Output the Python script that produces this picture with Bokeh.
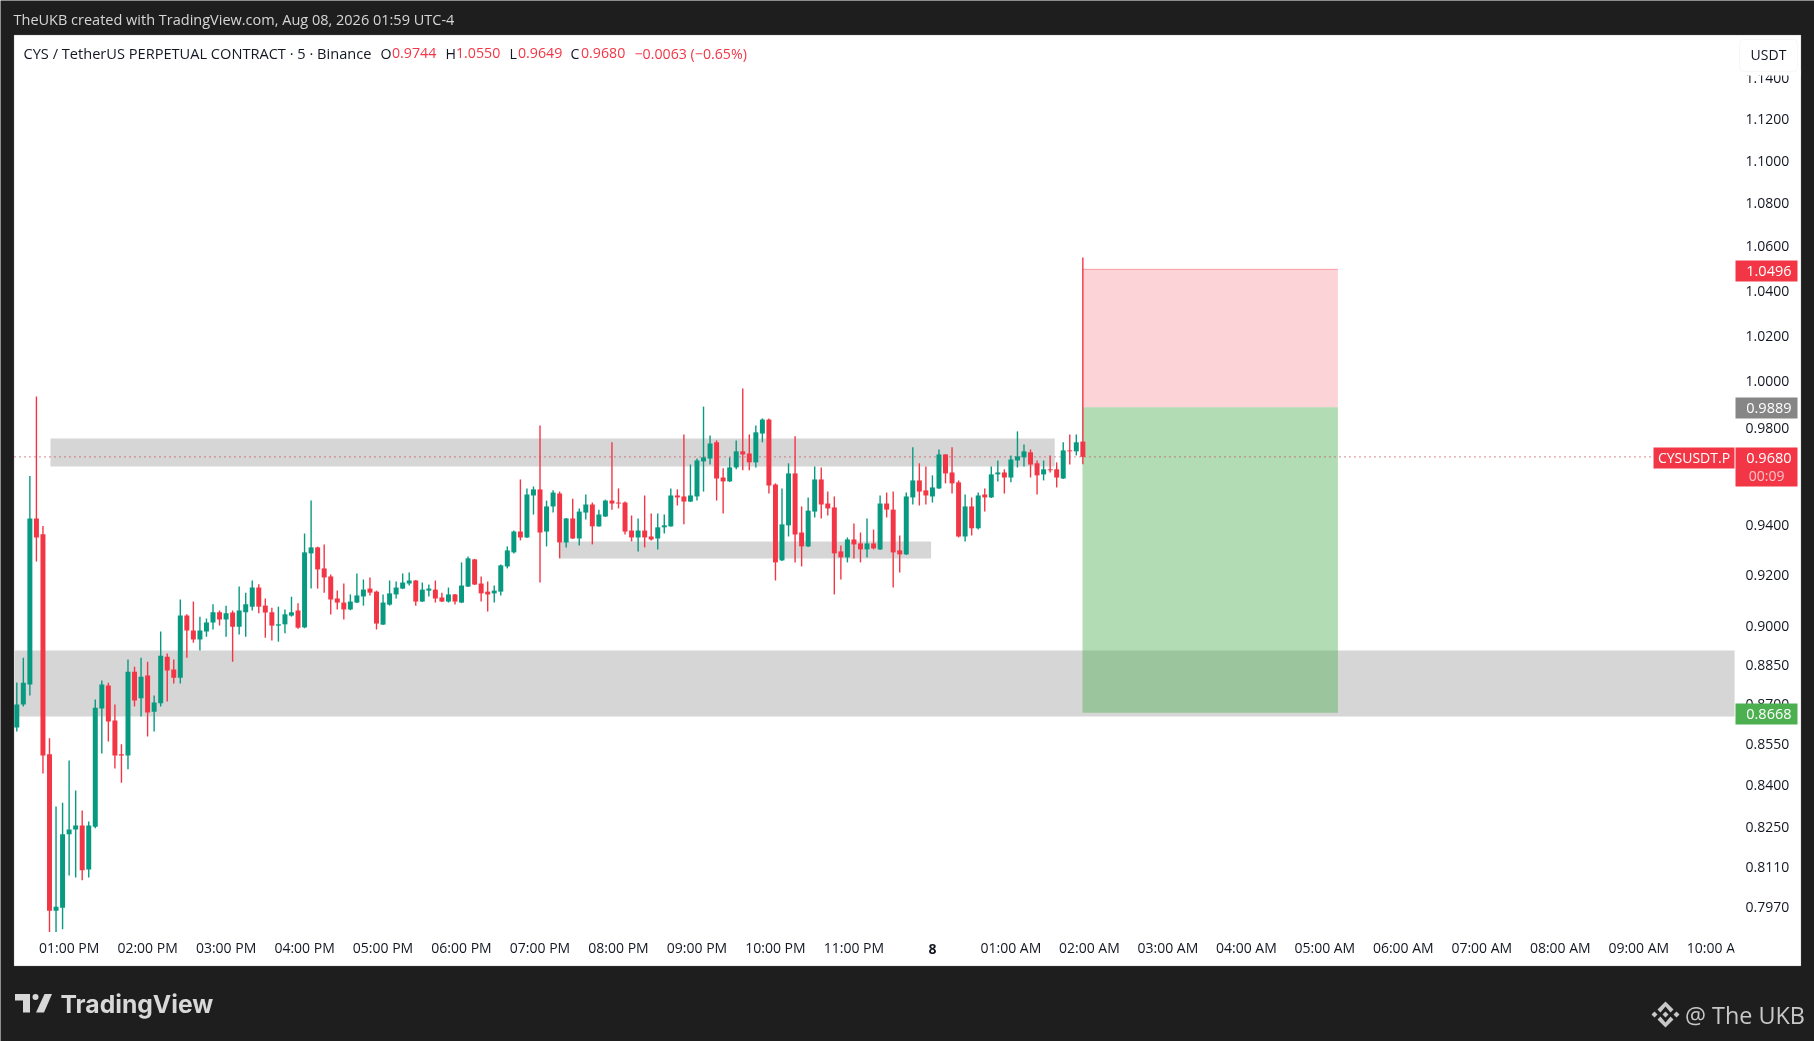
from bokeh.plotting import figure
from bokeh.embed import file_html
from bokeh.resources import INLINE
from bokeh.models import (BoxAnnotation, Label, PolyAnnotation, Range1d, FixedTicker,
                          NumeralTickFormatter)

opens = [.8613,.8699,.8774,.9426,.9362,.8514,.7958,.7968,.8225,.8242,
.8256,.8101,.8252,.8684,.8770,.8639,.8514,.8509,.8823,.8722,
.8808,.8672,.8703,.8880,.8831,.8800,.9039,.8981,.8946,.8977,
.9012,.9052,.9024,.9051,.8996,.9052,.9074,.9149,.9078,.9052,
.9000,.9005,.9039,.9059,.8993,.9285,.9309,.9225,.9193,.9106,
.9090,.9063,.9090,.9114,.9145,.9133,.9004,.9082,.9122,.9145,
.9165,.9177,.9094,.9137,.9141,.9110,.9094,.9122,.9090,.9153,
.9261,.9165,.9133,.9126,.9133,.9233,.9289,.9373,.9349,.9520,
.9545,.9373,.9475,.9528,.9329,.9426,.9345,.9450,.9483,.9394,
.9434,.9499,.9491,.9491,.9377,.9349,.9377,.9353,.9345,.9390,
.9394,.9520,.9516,.9495,.9516,.9661,.9673,.9741,.9594,.9578,
.9636,.9703,.9694,.9657,.9778,.9837,.9565,.9257,.9398,.9611,
.9369,.9313,.9454,.9586,.9487,.9471,.9293,.9269,.9341,.9325,
.9301,.9325,.9301,.9487,.9462,.9297,.9281,.9512,.9582,.9541,
.9516,.9549,.9690,.9615,.9574,.9353,.9475,.9386,.9524,.9512,
.9607,.9615,.9594,.9665,.9678,.9699,.9653,.9607,.9628,.9628,
.9590,.9707,.9703,.9744]
highs = [.8782,.8876,.9600,.9935,.9395,.8573,.8324,.8338,.8491,.8382,
.8310,.8270,.8718,.8789,.8781,.8699,.8551,.8869,.8842,.8876,
.8861,.8733,.8977,.8892,.8869,.9102,.9044,.9094,.9035,.9028,
.9083,.9059,.9078,.9059,.9153,.9129,.9177,.9162,.9106,.9070,
.9074,.9063,.9113,.9087,.9365,.9499,.9312,.9321,.9201,.9137,
.9165,.9122,.9205,.9181,.9189,.9137,.9122,.9177,.9173,.9205,
.9209,.9179,.9169,.9161,.9177,.9129,.9149,.9124,.9249,.9273,
.9263,.9193,.9173,.9157,.9241,.9313,.9377,.9586,.9549,.9557,
.9812,.9499,.9541,.9536,.9428,.9507,.9467,.9524,.9491,.9462,
.9503,.9741,.9549,.9495,.9438,.9426,.9520,.9446,.9446,.9442,
.9549,.9545,.9774,.9648,.9673,.9892,.9770,.9749,.9632,.9678,
.9749,.9970,.9774,.9812,.9842,.9842,.9570,.9549,.9653,.9766,
.9475,.9512,.9640,.9636,.9536,.9516,.9317,.9349,.9406,.9369,
.9426,.9381,.9520,.9532,.9536,.9357,.9532,.9720,.9653,.9640,
.9603,.9711,.9692,.9720,.9582,.9524,.9512,.9532,.9549,.9640,
.9665,.9628,.9686,.9787,.9732,.9711,.9665,.9665,.9686,.9657,
.9741,.9774,.9774,1.0550]
lows = [.8598,.8691,.8733,.9253,.8444,.7885,.7885,.7895,.8080,.8073,
.8063,.8073,.8246,.8517,.8561,.8462,.8410,.8459,.8691,.8654,
.8579,.8598,.8691,.8710,.8778,.8778,.8876,.8934,.8904,.8957,
.8985,.9000,.8957,.8861,.8966,.8957,.9059,.9048,.8953,.8942,
.8938,.8970,.9035,.8988,.8990,.9145,.9145,.9129,.9043,.9063,
.9024,.9060,.9088,.9078,.9118,.8985,.9002,.9078,.9106,.9143,
.9157,.9078,.9092,.9114,.9090,.9092,.9090,.9082,.9088,.9151,
.9159,.9094,.9055,.9090,.9118,.9225,.9285,.9337,.9347,.9442,
.9169,.9313,.9450,.9265,.9309,.9343,.9317,.9422,.9321,.9392,
.9432,.9462,.9467,.9361,.9333,.9293,.9309,.9337,.9301,.9365,
.9392,.9479,.9402,.9493,.9499,.9536,.9648,.9499,.9446,.9576,
.9628,.9624,.9624,.9636,.9741,.9528,.9177,.9255,.9353,.9249,
.9233,.9311,.9430,.9426,.9438,.9122,.9181,.9249,.9265,.9249,
.9269,.9301,.9299,.9430,.9149,.9209,.9279,.9483,.9479,.9483,
.9491,.9547,.9570,.9528,.9349,.9333,.9357,.9381,.9454,.9510,
.9578,.9528,.9574,.9636,.9640,.9594,.9524,.9582,.9615,.9553,
.9588,.9648,.9686,.9649]
closes = [.8699,.8781,.9426,.9349,.8509,.7958,.7972,.8225,.8242,.8256,
.8098,.8256,.8687,.8774,.8635,.8509,.8509,.8823,.8714,.8804,
.8669,.8706,.8884,.8827,.8800,.9039,.8981,.8946,.8981,.9012,
.9052,.9024,.9048,.8996,.9059,.9083,.9149,.9074,.9051,.9000,
.9005,.9044,.9052,.8992,.9289,.9309,.9221,.9189,.9102,.9090,
.9063,.9094,.9118,.9141,.9129,.9008,.9090,.9126,.9149,.9169,
.9177,.9094,.9141,.9145,.9106,.9094,.9122,.9094,.9157,.9265,
.9161,.9126,.9122,.9137,.9237,.9297,.9373,.9349,.9524,.9545,
.9369,.9475,.9532,.9329,.9426,.9345,.9454,.9483,.9394,.9442,
.9499,.9487,.9487,.9373,.9349,.9377,.9349,.9341,.9390,.9398,
.9520,.9512,.9495,.9520,.9665,.9678,.9736,.9590,.9578,.9636,
.9703,.9690,.9657,.9783,.9837,.9561,.9249,.9402,.9611,.9361,
.9313,.9458,.9586,.9483,.9467,.9285,.9269,.9341,.9321,.9301,
.9325,.9305,.9487,.9462,.9289,.9281,.9516,.9582,.9536,.9520,
.9553,.9690,.9611,.9570,.9353,.9475,.9386,.9520,.9512,.9607,
.9615,.9594,.9669,.9682,.9703,.9648,.9603,.9628,.9624,.9594,
.9707,.9703,.9741,.9680]

price_ticks = [1.14, 1.12, 1.10, 1.08, 1.06, 1.04, 1.02, 1.00, 0.98, 0.94, 0.92, 0.90,
               0.885, 0.87, 0.855, 0.84, 0.825, 0.811, 0.797]
hour_labels = ["01:00 PM", "02:00 PM", "03:00 PM", "04:00 PM", "05:00 PM", "06:00 PM",
               "07:00 PM", "08:00 PM", "09:00 PM", "10:00 PM", "11:00 PM", "8",
               "01:00 AM", "02:00 AM", "03:00 AM", "04:00 AM", "05:00 AM", "06:00 AM",
               "07:00 AM", "08:00 AM", "09:00 AM", "10:00 AM"]
hour_index = [8 + 12 * k for k in range(len(hour_labels))]

zone_upper = (.9757, .9640, 5.15, 158.7)      # high, low, first bar, last bar
zone_lower = (.9333, .9265, 83, 139.8)
zone_base = (.8904, .8654)
stop_price, entry_price, target_price = 1.0496, .9889, .8668
position_bars = (162.95, 202)
pane_left, pane_right, pane_floor = -0.352, 262.65, .7885

UP, DOWN, BG, INK = "#089981", "#F23645", "#1E1E1E", "#131722"
FONT = "Open Sans"

p = figure(width=1814, height=1041, output_backend="svg", toolbar_location=None,
           y_axis_type="log", y_axis_location="right",
           x_range=Range1d(-2.492, 274.87), y_range=Range1d(.75213, 1.17872),
           min_border_left=0, min_border_right=0, min_border_top=0, min_border_bottom=0,
           border_fill_color=BG, background_fill_color=BG, outline_line_color=None)
p.styles = {"position": "fixed", "left": "0px", "top": "0px"}
p.grid.visible = False

for ax in (p.xaxis[0], p.yaxis[0]):
    ax.axis_line_color = None
    ax.major_tick_line_color = None
    ax.minor_tick_line_color = None
    ax.major_label_text_color = INK
    ax.major_label_text_font = FONT
    ax.major_label_text_font_size = "14px"

p.yaxis[0].ticker = FixedTicker(ticks=price_ticks)
p.yaxis[0].formatter = NumeralTickFormatter(format="0.0000")
p.yaxis[0].major_label_standoff = 5
p.yaxis[0].fixed_location = pane_right
p.xaxis[0].ticker = FixedTicker(ticks=hour_index)
p.xaxis[0].major_label_overrides = {i: ("" if t == "8" else t) for i, t in zip(hour_index, hour_labels)}
p.xaxis[0].major_label_standoff = 0
p.xaxis[0].fixed_location = pane_floor


def box(l, r, t, b, color, level="overlay", **kw):
    a = BoxAnnotation(left=l, right=r, top=t, bottom=b, left_units="canvas", right_units="canvas",
                      top_units="canvas", bottom_units="canvas", fill_color=color, fill_alpha=1,
                      line_color=kw.pop("line_color", None), level=level, **kw)
    p.add_layout(a)


def label(x, y, text, color=INK, size=14, align="left", style="normal", font=FONT):
    p.add_layout(Label(x=x, y=y, x_units="canvas", y_units="canvas", text=text, text_color=color,
                       text_font=font, text_font_size=f"{size}px", text_align=align,
                       text_baseline="middle", text_font_style=style, level="overlay"))


def poly(xs, ys, color):
    p.add_layout(PolyAnnotation(xs=xs, ys=ys, xs_units="canvas", ys_units="canvas", fill_color=color,
                                fill_alpha=1, line_color=None, level="overlay"))


# white panel behind chart and price scale
box(13.5, 1800.5, 34.5, 965.5, "#FFFFFF", level="underlay", line_color="#7C7C7C")

# zones
p.quad(left=[zone_upper[2]], right=[zone_upper[3]], top=[zone_upper[0]], bottom=[zone_upper[1]],
       color="#D6D6D6", line_color=None)
p.quad(left=[zone_lower[2]], right=[zone_lower[3]], top=[zone_lower[0]], bottom=[zone_lower[1]],
       color="#D6D6D6", line_color=None)
p.quad(left=[pane_left], right=[pane_right], top=[zone_base[0]], bottom=[zone_base[1]],
       color="#D6D6D6", line_color=None)

# short position tool
p.quad(left=[position_bars[0]], right=[position_bars[1]], top=[stop_price], bottom=[entry_price],
       color="#F23645", fill_alpha=0.22, line_color=None)
p.quad(left=[position_bars[0]], right=[position_bars[1]], top=[entry_price], bottom=[target_price],
       color="#4CAF50", fill_alpha=0.43, line_color=None)
p.line(list(position_bars), [stop_price, stop_price], color="#F23645", line_alpha=0.4, line_width=1)

# last price line
p.line([pane_left, 249.8], [closes[-1], closes[-1]], color="#C8404C", line_width=1.2, line_dash="1 4")

# candles
idx = list(range(len(opens)))
colors = [UP if c >= o else DOWN for o, c in zip(opens, closes)]
p.segment(idx, highs, idx, lows, color=colors, line_width=1.4)
p.vbar(x=idx, width=0.76, top=[max(o, c) for o, c in zip(opens, closes)],
       bottom=[min(o, c) for o, c in zip(opens, closes)], fill_color=colors, line_color=None)

# mask beyond the chart pane on the time scale
box(1734, 1752, 934, 964, "#FFFFFF")
p.add_layout(Label(x=hour_index[hour_labels.index("8")], x_units="data", y=948, y_units="canvas", text="8",
                   text_color=INK, text_font=FONT, text_font_size="14px", text_font_style="bold",
                   text_align="center", text_baseline="middle", level="overlay"))

# top strip and legend
label(13, 19, "TheUKB created with TradingView.com, Aug 08, 2026 01:59 UTC-4", "#D6D6D6", size=14.5)
label(23, 52.5, "CYS / TetherUS PERPETUAL CONTRACT · 5 · Binance", size=14.6)
for x, t, c in [(380, "O", INK), (391.5, "0.9744", DOWN), (445, "H", INK), (455.5, "1.0550", DOWN),
                (509, "L", INK), (517.5, "0.9649", DOWN), (570, "C", INK), (580.5, "0.9680", DOWN),
                (634, "−0.0063 (−0.65%)", DOWN)]:
    label(x, 52.5, t, c, size=14.2)

# price scale tags
box(1734, 1800, 70, 75, "#FFFFFF")
box(1739, 1797, 39, 71, "#FFFFFF", line_color="#E4E4E4", border_radius=4)
label(1768, 54, "USDT", align="center")
box(1735, 1797, 260, 281, DOWN)
label(1791, 270, "1.0496", "#FFFFFF", align="right", size=14.5)
box(1735, 1797, 397, 418, "#868686")
label(1791, 407, "0.9889", "#FFFFFF", align="right", size=14.5)
box(1653, 1734, 447, 468, DOWN)
label(1693.5, 457, "CYSUSDT.P", "#FFFFFF", size=14, align="center")
box(1735, 1797, 447, 486, DOWN)
label(1791, 457, "0.9680", "#FFFFFF", align="right", size=14.5)
label(1784, 475, "00:09", "#FBC2C7", align="right")
box(1735, 1797, 703, 724, "#4CAF50")
label(1791, 713, "0.8668", "#FFFFFF", align="right", size=14.5)

# footer logo
LOGO = "#D8D8D8"
poly([14.5, 29.5, 29.5, 22.5, 22.5, 14.5], [993.5, 993.5, 1012, 1012, 1000, 1000], LOGO)
box(32, 38, 993.5, 999.5, LOGO, border_radius=3)
poly([44, 51.5, 43.5, 35.5], [993.5, 993.5, 1012, 1012], LOGO)
label(60, 1003, "TradingView", LOGO, size=24.7, style="bold", font="Inter")

# footer signature
SIG = "#C8C8C8"
cx, cy = 1665, 1014
poly([cx - 8, cx, cx + 8, cx + 5, cx, cx - 5], [cy - 5, cy - 13, cy - 5, cy - 2, cy - 8, cy - 2], SIG)
poly([cx - 8, cx, cx + 8, cx + 5, cx, cx - 5], [cy + 5, cy + 13, cy + 5, cy + 2, cy + 8, cy + 2], SIG)
poly([cx - 3, cx, cx + 3, cx], [cy, cy - 3, cy, cy + 3], SIG)
poly([cx - 14, cx - 11, cx - 8, cx - 11], [cy, cy - 3, cy, cy + 3], SIG)
poly([cx + 8, cx + 11, cx + 14, cx + 11], [cy, cy - 3, cy, cy + 3], SIG)
label(1684.5, 1014, "@ The UKB", SIG, size=23.4)

open("out.html", "w").write(file_html(p, INLINE))
